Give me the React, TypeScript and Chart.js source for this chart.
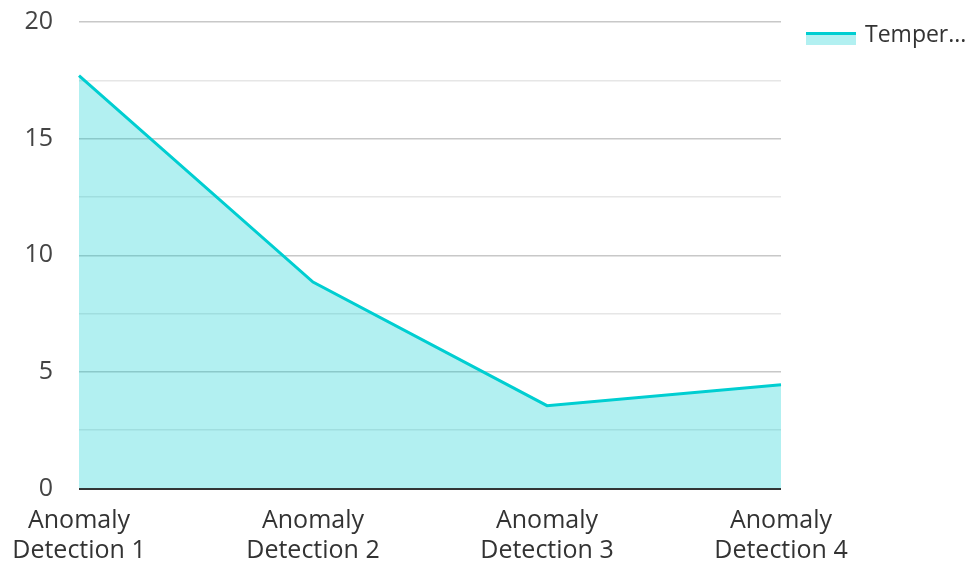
import React, { useEffect, useRef } from "react";
import { Chart, registerables } from "chart.js";

Chart.register(...registerables);

const categories: string[][] = [
  ["Anomaly", "Detection 1"],
  ["Anomaly", "Detection 2"],
  ["Anomaly", "Detection 3"],
  ["Anomaly", "Detection 4"],
];
const temperatureValues: number[] = [17.7, 8.85, 3.55, 4.45];
const seriesLabel = "Temper...";
const yMin = 0;
const yMax = 20;
const yStep = 2.5;

const LINE_COLOR = "#00ced1";
const FILL_COLOR = "rgba(0, 206, 209, 0.3)";
const FONT = "'Open Sans', 'Noto Sans', sans-serif";
const FONT_SIZE = 25;
const LEGEND_FONT_SIZE = 23;

const legendPlugin = {
  id: "customLegend",
  afterDraw(chart: Chart) {
    const ctx = chart.ctx;
    const x = 806;
    const y = 32;
    ctx.save();
    ctx.fillStyle = FILL_COLOR;
    ctx.fillRect(x, y, 50, 13);
    ctx.fillStyle = LINE_COLOR;
    ctx.fillRect(x, y, 50, 3);
    ctx.fillStyle = "#333333";
    ctx.font = `${LEGEND_FONT_SIZE}px ${FONT}`;
    ctx.textBaseline = "middle";
    ctx.textAlign = "left";
    ctx.fillText(seriesLabel, 865, 35);
    ctx.restore();
  },
};

export default function App() {
  const canvasRef = useRef<HTMLCanvasElement | null>(null);

  useEffect(() => {
    if (!canvasRef.current) return;
    const chart = new Chart(canvasRef.current, {
      type: "line",
      data: {
        labels: categories,
        datasets: [
          {
            label: seriesLabel,
            data: temperatureValues,
            borderColor: LINE_COLOR,
            backgroundColor: FILL_COLOR,
            borderWidth: 3,
            fill: "origin",
            pointRadius: 0,
            tension: 0,
          },
        ],
      },
      options: {
        animation: false,
        responsive: true,
        maintainAspectRatio: false,
        layout: { padding: { top: 22, right: 190, left: 0, bottom: 0 } },
        plugins: {
          legend: { display: false },
          tooltip: { enabled: false },
        },
        scales: {
          x: {
            offset: false,
            grid: { display: false, drawTicks: false },
            border: { display: false },
            ticks: {
              color: "#333333",
              font: { family: FONT, size: FONT_SIZE, lineHeight: 1.2 },
              padding: 17,
              maxRotation: 0,
              autoSkip: false,
            },
            afterFit(scale: any) {
              scale.height = 72.5;
              scale.paddingLeft = 0;
              scale.paddingRight = 0;
            },
          },
          y: {
            min: yMin,
            max: yMax,
            grid: {
              drawTicks: false,
              color: (c: any) => {
                const v = c.tick ? c.tick.value : 0;
                if (v === 0) return "#333333";
                return v % 5 === 0 ? "#c8c8c8" : "#e6e6e6";
              },
              lineWidth: (c: any) => (c.tick && c.tick.value === 0 ? 2 : 1.5),
            },
            border: { display: false },
            ticks: {
              stepSize: yStep,
              color: "#444444",
              font: { family: FONT, size: FONT_SIZE },
              padding: 26,
              callback: (v: any) => (Number(v) % 5 === 0 ? String(v) : ""),
            },
            afterFit(scale: any) {
              scale.width = 79;
              scale.paddingTop = 0;
              scale.paddingBottom = 0;
            },
          },
        },
      },
      plugins: [legendPlugin],
    });
    return () => chart.destroy();
  }, []);

  return (
    <div style={{ position: "fixed", left: 0, top: 0, width: 971, height: 561, background: "#ffffff" }}>
      <canvas ref={canvasRef} />
    </div>
  );
}
